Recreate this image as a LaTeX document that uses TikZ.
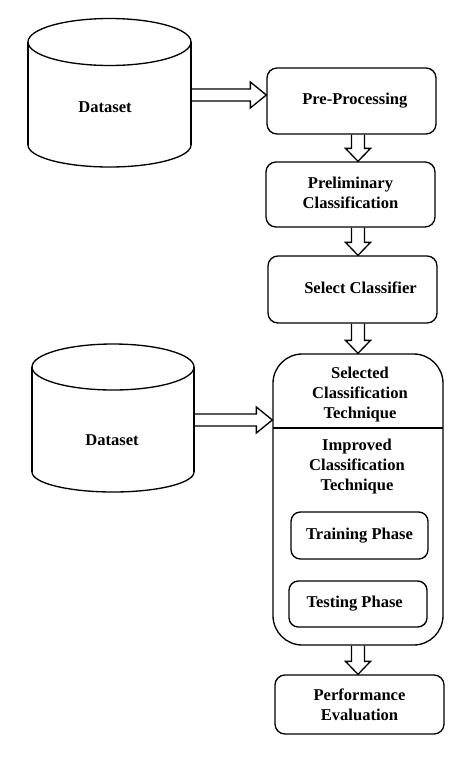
\documentclass[tikz,border=0pt]{standalone}
\usepackage{fontspec}
\setmainfont{Liberation Serif}
\usetikzlibrary{calc}
\begin{document}
\begin{tikzpicture}[x=0.75pt,y=0.75pt,line width=1pt,
  every node/.style={font=\fontsize{12.4}{15}\selectfont\bfseries, align=center, inner sep=0pt},
  box/.style={draw, rounded corners=7.5pt},
  vblk/.style={to path={let \p1=(\tikztostart), \p2=(\tikztotarget) in
    (\x1-4.9pt,\y1) -- (\x1-4.9pt,\y2+9.75pt) -- (\x1-9.4pt,\y2+9.75pt) -- (\x1,\y2)
    -- (\x1+9.4pt,\y2+9.75pt) -- (\x1+4.9pt,\y2+9.75pt) -- (\x1+4.9pt,\y1)}},
  hblk/.style={to path={let \p1=(\tikztostart), \p2=(\tikztotarget) in
    (\x1,\y1+4.5pt) -- (\x2-12pt,\y1+4.5pt) -- (\x2-12pt,\y1+9.75pt) -- (\x2,\y1)
    -- (\x2-12pt,\y1-9.75pt) -- (\x2-12pt,\y1-4.5pt) -- (\x1,\y1-4.5pt)}}
]
\path[use as bounding box, fill=white] (0,0) rectangle (474,-757);

% cylinder 1
\draw (28,-42) -- (28,-145) (191,-42) -- (191,-145);
\draw (109.5,-42) ellipse [x radius=81.5, y radius=23.5];
\draw (28,-145) arc [start angle=180, end angle=360, x radius=81.5, y radius=22];
\node (ds1) at (105,-107) {Dataset};
\coordinate (ds1e) at (191,-95);

% cylinder 2
\draw (32,-367) -- (32,-472) (194,-367) -- (194,-472);
\draw (113,-367) ellipse [x radius=81, y radius=23];
\draw (32,-472) arc [start angle=180, end angle=360, x radius=81, y radius=20];
\node (ds2) at (112,-440) {Dataset};
\coordinate (ds2e) at (194,-420);

% boxes
\node[box, minimum width=126.75pt, minimum height=49.5pt] (pre) at (351.5,-101) {\hspace*{5pt}Pre-Processing};
\node[box, minimum width=126.75pt, minimum height=48.75pt] (prelim) at (350.5,-194.5) {\raisebox{2pt}{\begin{tabular}{@{}c@{}}Preliminary\\Classification\end{tabular}}\hspace*{-0pt}};
\node[box, minimum width=126.75pt, minimum height=50.25pt] (sel) at (352.5,-289.5) {\hspace*{12pt}\raisebox{3pt}{Select Classifier}};
\node[draw, rounded corners=22pt, minimum width=127.5pt, minimum height=218.25pt] (big) at (358,-499.5) {};
\coordinate (divl) at (273,-428);
\coordinate (divr) at (443,-428);
\draw (divl) -- (divr);
\node (selt) at (360,-395) {Selected\\Classification\\Technique};
\node (impt) at (357,-467) {Improved\\Classification\\Technique};
\node[box, rounded corners=7pt, minimum width=102.75pt, minimum height=35.25pt] (train) at (359.5,-535.5) {Training Phase};
\node[box, rounded corners=7pt, minimum width=103.5pt, minimum height=34.5pt] (test) at (358,-604) {Testing Phase\hspace*{5pt}};
\node[box, minimum width=126.75pt, minimum height=44.25pt] (perf) at (359.5,-704.5) {Performance\\Evaluation};

% arrows
\draw[hblk] (ds1e) to (pre.west |- ds1e);
\draw[hblk] (ds2e) to (big.west |- ds2e);
\draw[vblk] (pre.south -| big.north) to (prelim.north -| big.north);
\draw[vblk] (prelim.south -| big.north) to (sel.north -| big.north);
\draw[vblk] (sel.south -| big.north) to (big.north);
\draw[vblk] (big.south) to (perf.north -| big.south);
\end{tikzpicture}
\end{document}
